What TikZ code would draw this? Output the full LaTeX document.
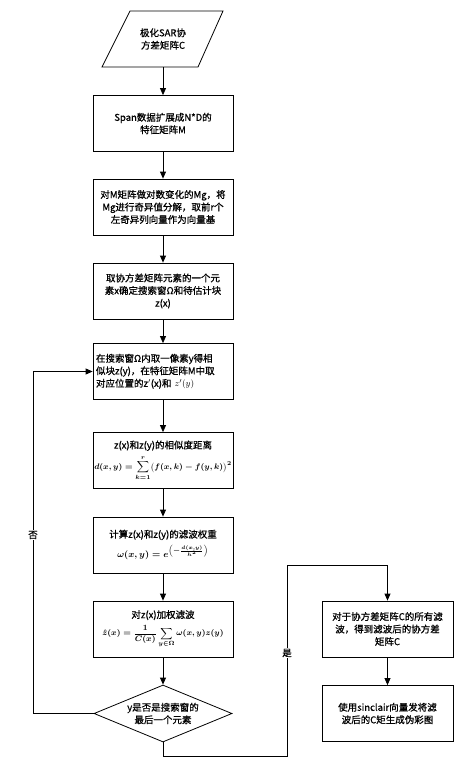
\documentclass[tikz,border=0pt]{standalone}
\usepackage{amsmath}
\usepackage{fontspec}
\setmainfont{Noto Sans CJK SC}[FakeBold=0.8]
\usetikzlibrary{arrows.meta,shapes.geometric}
\newcommand{\fsm}{\fontsize{8.5}{10}\selectfont}
\begin{document}
\begin{tikzpicture}[x=1pt,y=-1pt,
  line width=0.8pt,
  txt/.style={font=\fontsize{9.5}{12.5}\selectfont, align=center, inner sep=0pt},
  box/.style={txt, draw, minimum width=140pt, minimum height=56pt},
  rbox/.style={txt, draw, minimum width=131pt, minimum height=56pt},
  arr/.style={-{Triangle[length=7pt,width=6pt]}},
  lab/.style={txt, fill=white, inner sep=1pt}]
\useasboundingbox (0,0) rectangle (474,776);
% start parallelogram
\draw (102,67) -- (130,11) -- (223,11) -- (198,67) -- cycle;
\node[txt, minimum width=96pt, minimum height=56pt] (p1) at (163,39) {极化SAR协\\方差矩阵C};
\node[box] (b2) at (163,123.5) {Span数据扩展成N*D的\\特征矩阵M};
\node[box] (b3) at (163,207) {对M矩阵做对数变化的Mg，将\\Mg进行奇异值分解，取前r个\\左奇异列向量作为向量基};
\node[box] (b4) at (163,291) {取协方差矩阵元素的一个元\\素x确定搜索窗Ω和待估计块\\z(x)};
\node[box, text width=134pt, align=left] (b5) at (163,371.5) {在搜索窗Ω内取一像素y得相\\似块z(y)，在特征矩阵M中取\\对应位置的z$'$(x)和 $z'(y)$};
\node[box] (b6) at (163,460.5) {z(x)和z(y)的相似度距离\\[4pt]
  {\fsm$\boldsymbol{\displaystyle d(x,y)=\sum_{k=1}^{r}\bigl(f(x,k)-f(y,k)\bigr)^2}$}};
\node[box] (b7) at (163,545) {计算z(x)和z(y)的滤波权重\\[4pt]
  $\boldsymbol{\omega(x,y)=e^{\left(-\frac{d(x,y)}{h^2}\right)}}$};
\node[box] (b8) at (163,629) {对z(x)加权滤波\\[4pt]
  {\fsm$\boldsymbol{\displaystyle \hat{z}(x)=\frac{1}{C(x)}\sum_{y\in\Omega}\omega(x,y)z(y)}$}};
\node[txt, draw, shape=diamond, aspect=2.4, minimum width=138pt, minimum height=57pt] (dia) at (163,713.5) {y是否是搜索窗的\\最后一个元素};
\node[rbox] (r1) at (387.5,629) {对于协方差矩阵C的所有滤\\波，得到滤波后的协方差\\矩阵C};
\node[rbox] (r2) at (387.5,713.5) {使用sinclair向量发将滤\\波后的C矩生成伪彩图};
% connectors
\draw[arr] (p1.south) -- (b2);
\draw[arr] (b2) -- (b3);
\draw[arr] (b3) -- (b4);
\draw[arr] (b4) -- (b5);
\draw[arr] (b5) -- (b6);
\draw[arr] (b6) -- (b7);
\draw[arr] (b7) -- (b8);
\draw[arr] (b8) -- (dia);
\draw[arr] (r1) -- (r2);
\coordinate (L) at (33,713.5);
\draw[arr] (dia.west) -- (L) |- (b5.west);
\coordinate (RB) at (287,756);
\coordinate (RT) at (287,565);
\draw[arr] (dia.south) |- (RB) -- (RT) -| (r1.north);
\node[lab] (no) at (33,535) {否};
\node[lab] (yes) at (287,653) {是};
\end{tikzpicture}
\end{document}
